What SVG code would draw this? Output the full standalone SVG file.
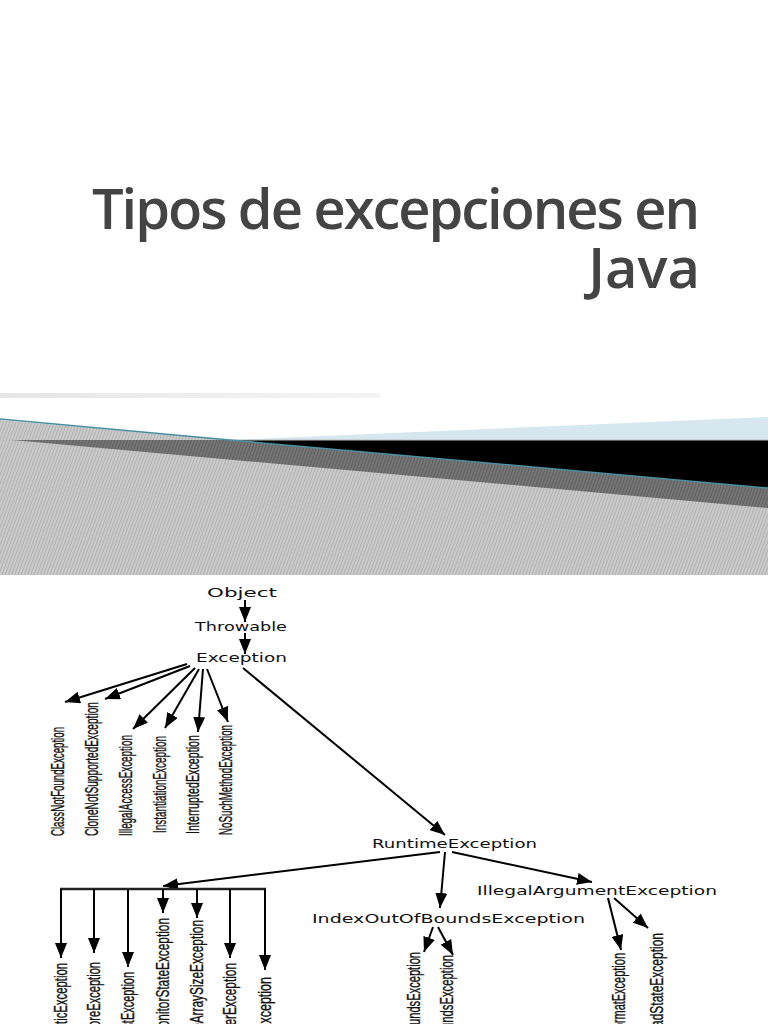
<svg xmlns="http://www.w3.org/2000/svg" width="768" height="1024" viewBox="0 0 768 1024">
<style>
.title{font-family:"Open Sans","DejaVu Sans",sans-serif;font-size:56px;font-weight:600;fill:#444;text-anchor:end}
.h{font-family:"DejaVu Sans",sans-serif;font-size:12.5px;fill:#111}
.v{font-family:"Liberation Sans",Arial,sans-serif;font-size:18px;fill:#111;stroke:#111;stroke-width:0.35}
.c{stroke:#000;stroke-width:2;fill:none;marker-end:url(#ah)}
.bar{stroke:#222;stroke-width:2.5;fill:none}
</style>
<defs>
<marker id="ah" viewBox="0 0 15 12" refX="15" refY="6" markerWidth="15" markerHeight="12" markerUnits="userSpaceOnUse" orient="auto">
<path d="M0,0 L15,6 L0,12 z" fill="#000"/>
</marker>
<pattern id="hatch" width="3" height="6" patternUnits="userSpaceOnUse" patternTransform="rotate(20)">
<rect width="3" height="6" fill="#cbcbcb"/>
<rect width="1" height="6" fill="#b0b0b0"/>
</pattern>
<pattern id="hatchd" width="3" height="6" patternUnits="userSpaceOnUse" patternTransform="rotate(20)">
<rect width="3" height="6" fill="#767676"/>
<rect width="1" height="6" fill="#5e5e5e"/>
</pattern>
<linearGradient id="fade" x1="0" x2="1" y1="0" y2="0">
<stop offset="0" stop-color="#e6e6e6"/>
<stop offset="1" stop-color="#f4f4f4"/>
</linearGradient>
<linearGradient id="tl" x1="0" x2="1" y1="0" y2="0">
<stop offset="0" stop-color="#5a9aa8" stop-opacity="0"/>
<stop offset="0.2" stop-color="#5a9aa8"/>
<stop offset="1" stop-color="#5a9aa8"/>
</linearGradient>
</defs>
<rect width="768" height="1024" fill="#fff"/>

<g id="title">
<text class="title" x="700" y="229" textLength="608" lengthAdjust="spacing">Tipos de excepciones en</text>
<text class="title" x="700" y="288">Java</text>
</g>

<g id="banner">
<rect x="0" y="393" width="380" height="5" fill="url(#fade)"/>
<line x1="20" y1="392" x2="768" y2="392" stroke="url(#tl)" stroke-width="1.5"/>
<polygon points="0,420 230,440 768,440 768,575 0,575" fill="url(#hatch)"/>
<polygon points="230,440 768,417 768,440" fill="#d6e7ef"/>
<polygon points="12,440 768,440 768,508" fill="url(#hatchd)"/>
<polygon points="230,440 768,440 768,488" fill="#000"/>
<line x1="230" y1="440" x2="768" y2="440" stroke="#bbb" stroke-width="1"/>
<polyline points="0,419 230,440 768,488" fill="none" stroke="#4a8fa0" stroke-width="1.5"/>
</g>

<g id="connectors">
<path class="c" d="M245,600 L245,622"/>
<path class="c" d="M245,633 L245,654"/>
<path class="c" d="M187,664 L65,702"/>
<path class="c" d="M190,666 L105,699"/>
<path class="c" d="M195,668 L133,729"/>
<path class="c" d="M199,669 L165,728"/>
<path class="c" d="M203,669 L198,732"/>
<path class="c" d="M207,669 L228,722"/>
<path class="c" d="M243,668 L445,835"/>
<path class="c" d="M440,852 L163,886"/>
<path class="bar" d="M60,889 L266,889"/>
<path class="c" d="M61,889 L61,958"/>
<path class="c" d="M94,889 L94,953"/>
<path class="c" d="M128,889 L128,967"/>
<path class="c" d="M163,889 L163,913"/>
<path class="c" d="M197,889 L197,918"/>
<path class="c" d="M230,889 L230,958"/>
<path class="c" d="M265,889 L265,970"/>
<path class="c" d="M445,852 L440,908"/>
<path class="c" d="M452,852 L592,882"/>
<path class="c" d="M433,927 L424,952"/>
<path class="c" d="M438,927 L453,955"/>
<path class="c" d="M608,898 L621,950"/>
<path class="c" d="M614,898 L648,928"/>
</g>

<g id="n-object"><text class="h" x="207" y="597" textLength="70" lengthAdjust="spacingAndGlyphs">Object</text></g>
<g id="n-throwable"><text class="h" x="195" y="631" textLength="92" lengthAdjust="spacingAndGlyphs">Throwable</text></g>
<g id="n-exception"><text class="h" x="196" y="662" textLength="91" lengthAdjust="spacingAndGlyphs">Exception</text></g>
<g id="n-runtime"><text class="h" x="372" y="848" textLength="165" lengthAdjust="spacingAndGlyphs">RuntimeException</text></g>
<g id="n-illegalarg"><text class="h" x="477" y="895" textLength="240" lengthAdjust="spacingAndGlyphs">IllegalArgumentException</text></g>
<g id="n-indexout"><text class="h" x="312" y="923" textLength="273" lengthAdjust="spacingAndGlyphs">IndexOutOfBoundsException</text></g>

<g id="n-classnotfound"><text class="v" transform="translate(64,836) rotate(-90)" textLength="109" lengthAdjust="spacingAndGlyphs">ClassNotFoundException</text></g>
<g id="n-clonenotsupported"><text class="v" transform="translate(98,836) rotate(-90)" textLength="134" lengthAdjust="spacingAndGlyphs">CloneNotSupportedException</text></g>
<g id="n-illegalaccess"><text class="v" transform="translate(132,836) rotate(-90)" textLength="101" lengthAdjust="spacingAndGlyphs">IllegalAccessException</text></g>
<g id="n-instantiation"><text class="v" transform="translate(166,833) rotate(-90)" textLength="97" lengthAdjust="spacingAndGlyphs">InstantiationException</text></g>
<g id="n-interrupted"><text class="v" transform="translate(199,834) rotate(-90)" textLength="99" lengthAdjust="spacingAndGlyphs">InterruptedException</text></g>
<g id="n-nosuchmethod"><text class="v" transform="translate(232,835) rotate(-90)" textLength="110" lengthAdjust="spacingAndGlyphs">NoSuchMethodException</text></g>

<g id="n-arithmetic"><text class="v" transform="translate(67,1063) rotate(-90)" textLength="100" lengthAdjust="spacingAndGlyphs">ArithmeticException</text></g>
<g id="n-arraystore"><text class="v" transform="translate(100,1064) rotate(-90)" textLength="102" lengthAdjust="spacingAndGlyphs">ArrayStoreException</text></g>
<g id="n-classcast"><text class="v" transform="translate(134,1070) rotate(-90)" textLength="98" lengthAdjust="spacingAndGlyphs">ClassCastException</text></g>
<g id="n-illegalmonitor"><text class="v" transform="translate(169,1068) rotate(-90)" textLength="150" lengthAdjust="spacingAndGlyphs">IllegalMonitorStateException</text></g>
<g id="n-negativearraysize"><text class="v" transform="translate(203,1070) rotate(-90)" textLength="150" lengthAdjust="spacingAndGlyphs">NegativeArraySizeException</text></g>
<g id="n-nullpointer"><text class="v" transform="translate(236,1073) rotate(-90)" textLength="110" lengthAdjust="spacingAndGlyphs">NullPointerException</text></g>
<g id="n-security"><text class="v" transform="translate(271,1077) rotate(-90)" textLength="100" lengthAdjust="spacingAndGlyphs">SecurityException</text></g>

<g id="n-arrayindex"><text class="v" transform="translate(420,1122) rotate(-90)" textLength="170" lengthAdjust="spacingAndGlyphs">ArrayIndexOutOfBoundsException</text></g>
<g id="n-stringindex"><text class="v" transform="translate(453,1130) rotate(-90)" textLength="175" lengthAdjust="spacingAndGlyphs">StringIndexOutOfBoundsException</text></g>
<g id="n-numberformat"><text class="v" transform="translate(625,1075) rotate(-90)" textLength="122" lengthAdjust="spacingAndGlyphs">NumberFormatException</text></g>
<g id="n-illegalthread"><text class="v" transform="translate(663,1083) rotate(-90)" textLength="150" lengthAdjust="spacingAndGlyphs">IllegalThreadStateException</text></g>
</svg>
